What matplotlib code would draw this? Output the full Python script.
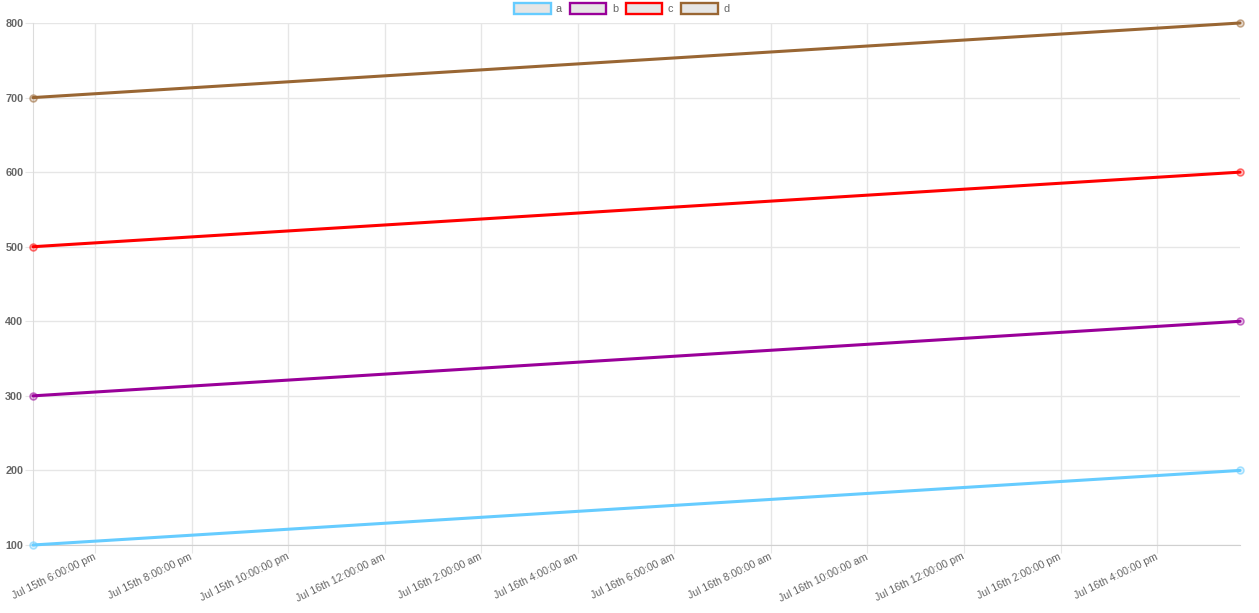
import datetime as dt
import matplotlib
matplotlib.use("Agg")
import matplotlib.pyplot as plt
import matplotlib.dates as mdates
from matplotlib.patches import Patch
from matplotlib.colors import to_rgba

# ---- data ----
times = [dt.datetime(2024, 7, 15, 16, 43), dt.datetime(2024, 7, 16, 17, 43)]
series_names = ["a", "b", "c", "d"]
a_values = [100, 200]
b_values = [300, 400]
c_values = [500, 600]
d_values = [700, 800]
series_values = [a_values, b_values, c_values, d_values]
series_colors = ["#66ccff", "#990099", "#ff0000", "#996633"]
y_ticks = [100, 200, 300, 400, 500, 600, 700, 800]

plt.rcParams["font.family"] = ["Liberation Sans", "DejaVu Sans"]

W, H = 1259, 613
fig = plt.figure(figsize=(W / 100, H / 100), dpi=100)
left, right, top, bottom = 33, 1240, 23, 545
ax = fig.add_axes([left / W, (H - bottom) / H, (right - left) / W, (bottom - top) / H])

for name, vals, col in zip(series_names, series_values, series_colors):
    ax.plot(times, vals, color=col, lw=2.2, solid_capstyle="round", zorder=3,
            marker="o", ms=5, mfc=to_rgba(col, 0.25), mec=to_rgba(col, 0.55), mew=1.1,
            clip_on=False, label=name)

ax.set_xlim(times[0], times[-1])
ax.set_ylim(100, 800)
ax.set_yticks(y_ticks)


def ordinal(n):
    if 10 <= n % 100 <= 20:
        suf = "th"
    else:
        suf = {1: "st", 2: "nd", 3: "rd"}.get(n % 10, "th")
    return f"{n}{suf}"


def fmt(x, pos=None):
    d = mdates.num2date(x)
    h = d.hour % 12
    if h == 0:
        h = 12
    ampm = "am" if d.hour < 12 else "pm"
    return f"{d.strftime('%b')} {ordinal(d.day)} {h}:{d.minute:02d}:{d.second:02d} {ampm}"


ax.xaxis.set_major_locator(mdates.HourLocator(byhour=range(0, 24, 2)))
ax.xaxis.set_major_formatter(plt.FuncFormatter(fmt))

grid_col = "#e6e6e6"
ax.grid(True, color=grid_col, lw=1, zorder=0)
for s in ["top", "right"]:
    ax.spines[s].set_visible(False)
ax.spines["left"].set_color("#dcdcdc")
ax.spines["bottom"].set_color("#d0d0d0")
ax.tick_params(axis="both", length=6, color=grid_col, labelcolor="#666666", labelsize=7.6)
ax.tick_params(axis="y", pad=1, labelsize=7.8)
ax.tick_params(axis="x", pad=2)
for lbl in ax.get_yticklabels():
    lbl.set_fontweight("bold")
for lbl in ax.get_xticklabels():
    lbl.set_rotation(26)
    lbl.set_ha("right")
    lbl.set_va("center")
    lbl.set_rotation_mode("anchor")

handles = [Patch(facecolor="#e6e6e6", edgecolor=c, linewidth=1.7, label=n)
           for n, c in zip(series_names, series_colors)]
leg = fig.legend(handles=handles, loc="upper center", bbox_to_anchor=(0.5 - 8 / W, 1.0), ncol=4,
                 frameon=False, handlelength=3.4, handleheight=1.2, handletextpad=0.5,
                 columnspacing=0.7, fontsize=7.8, borderaxespad=0.1, borderpad=0.2)
for t in leg.get_texts():
    t.set_color("#666666")

fig.savefig("out.png", dpi=100)
